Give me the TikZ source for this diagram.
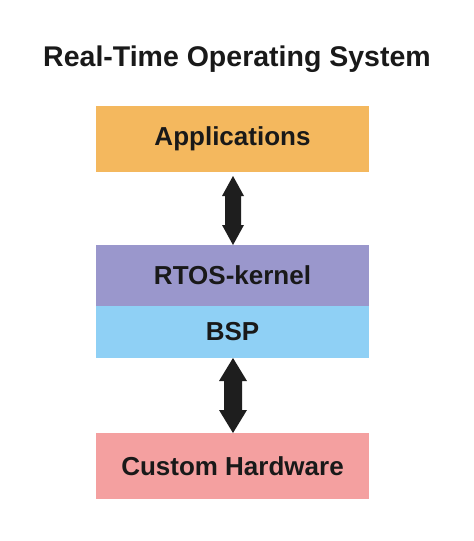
\documentclass[tikz,border=0pt]{standalone}
\usepackage{fontspec}
\setmainfont{Liberation Sans}
\definecolor{appcol}{HTML}{F4B85E}
\definecolor{kercol}{HTML}{9A97CC}
\definecolor{bspcol}{HTML}{8FD0F5}
\definecolor{hwcol}{HTML}{F4A0A0}
\definecolor{arrcol}{HTML}{1E1E1E}
\begin{document}
\begin{tikzpicture}[x=1pt,y=-1pt,
  layer/.style={minimum width=273pt, inner sep=0pt, font=\bfseries\fontsize{26}{30}\selectfont, text=black!90},
  dblarrow/.style={fill=arrcol, draw=none}]
\useasboundingbox[fill=white] (0,0) rectangle (474,541);
\node[font=\bfseries\fontsize{28.5}{34}\selectfont, text=black!90] (title) at (237,59) {Real-Time Operating System};
\node[layer, fill=appcol, minimum height=66pt] (app) at (232.5,139) {Applications};
\node[layer, fill=kercol, minimum height=61pt] (kern) at (232.5,275.5) {RTOS-kernel};
\node[layer, fill=bspcol, minimum height=52pt] (bsp) at (232.5,332) {BSP};
\node[layer, fill=hwcol, minimum height=66pt] (hw) at (232.5,466) {Custom Hardware};
% arrow 1: Applications <-> RTOS-kernel
\coordinate (a1t) at (233,176);
\coordinate (a1b) at (233,245);
\fill[dblarrow] (a1t)
  -- ++(-11,20) -- ++(3,0) -- ++(0,29) -- ++(-3,0) -- (a1b) -- ++(11,-20) -- ++(-3,0) -- ++(0,-29) -- ++(3,0) -- cycle;
% arrow 2: BSP <-> Custom Hardware
\coordinate (a2t) at (233,358);
\coordinate (a2b) at (233,433);
\fill[dblarrow] (a2t)
  -- ++(-14,23) -- ++(5,0) -- ++(0,29) -- ++(-5,0) -- (a2b) -- ++(14,-23) -- ++(-5,0) -- ++(0,-29) -- ++(5,0) -- cycle;
\end{tikzpicture}
\end{document}
